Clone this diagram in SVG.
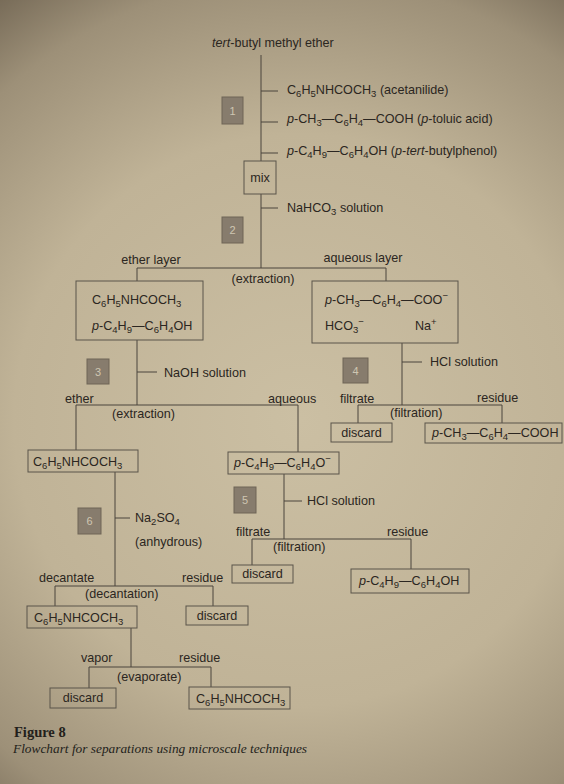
<svg xmlns="http://www.w3.org/2000/svg" width="564" height="784" viewBox="0 0 564 784">
<defs>
<radialGradient id="bg" cx="300" cy="420" r="520" gradientUnits="userSpaceOnUse">
<stop offset="0" stop-color="#cbbfa3"/>
<stop offset="0.55" stop-color="#c0b397"/>
<stop offset="0.85" stop-color="#9d9078"/>
<stop offset="1" stop-color="#766a57"/>
</radialGradient>
<style>
text{font-family:"Liberation Sans",Arial,sans-serif;font-size:12.6px;fill:#2b2621}
.i{font-style:italic}
.b{font-size:9.5px;baseline-shift:-3px}
.p{font-size:9.5px;baseline-shift:5px}
.c{text-anchor:middle}
.box{fill:none;stroke:#5a544a;stroke-width:1}
.num rect{fill:#877c6d;stroke:#6e6456;stroke-width:1}
.num text{fill:#cfc6b2;font-size:11px;text-anchor:middle}
#connectors line{stroke:#4a443c;stroke-width:1}
.fig{font-family:"Liberation Serif","Times New Roman",serif;font-size:14.5px;font-weight:bold;fill:#231f1b}
.cap{font-family:"Liberation Serif","Times New Roman",serif;font-size:13px;font-style:italic;fill:#231f1b}
</style>
</defs>
<rect x="0" y="0" width="564" height="784" fill="url(#bg)"/>

<g id="connectors">
<line x1="261" y1="55" x2="261" y2="161"/>
<line x1="261" y1="91" x2="278" y2="91"/>
<line x1="261" y1="122" x2="278" y2="122"/>
<line x1="261" y1="153" x2="278" y2="153"/>
<line x1="261" y1="194" x2="261" y2="268"/>
<line x1="261" y1="208" x2="278" y2="208"/>
<line x1="137" y1="268" x2="386" y2="268"/>
<line x1="137" y1="268" x2="137" y2="281"/>
<line x1="386" y1="268" x2="386" y2="281"/>
<line x1="137" y1="340" x2="137" y2="405"/>
<line x1="137" y1="372" x2="157" y2="372"/>
<line x1="76" y1="405" x2="298" y2="405"/>
<line x1="76" y1="405" x2="76" y2="450"/>
<line x1="298" y1="405" x2="298" y2="452"/>
<line x1="402" y1="343" x2="402" y2="405"/>
<line x1="402" y1="362" x2="422" y2="362"/>
<line x1="358" y1="405" x2="502" y2="405"/>
<line x1="358" y1="405" x2="358" y2="423"/>
<line x1="502" y1="405" x2="502" y2="423"/>
<line x1="115" y1="472" x2="115" y2="586"/>
<line x1="115" y1="518" x2="130" y2="518"/>
<line x1="55" y1="586" x2="213" y2="586"/>
<line x1="55" y1="586" x2="55" y2="606"/>
<line x1="213" y1="586" x2="213" y2="606"/>
<line x1="284" y1="474" x2="284" y2="539"/>
<line x1="284" y1="501" x2="302" y2="501"/>
<line x1="252" y1="539" x2="411" y2="539"/>
<line x1="252" y1="539" x2="252" y2="565"/>
<line x1="411" y1="539" x2="411" y2="569"/>
<line x1="131" y1="628" x2="131" y2="667"/>
<line x1="89" y1="667" x2="211" y2="667"/>
<line x1="89" y1="667" x2="89" y2="688"/>
<line x1="211" y1="667" x2="211" y2="687"/>
</g>

<g id="title"><text x="212" y="47"><tspan class="i">tert</tspan>-butyl methyl ether</text></g>
<g id="reagents1">
<text x="287" y="94">C<tspan class="b">6</tspan>H<tspan class="b">5</tspan>NHCOCH<tspan class="b">3</tspan> (acetanilide)</text>
<text x="287" y="123"><tspan class="i">p</tspan>-CH<tspan class="b">3</tspan>—C<tspan class="b">6</tspan>H<tspan class="b">4</tspan>—COOH (<tspan class="i">p</tspan>-toluic acid)</text>
<text x="287" y="155"><tspan class="i">p</tspan>-C<tspan class="b">4</tspan>H<tspan class="b">9</tspan>—C<tspan class="b">6</tspan>H<tspan class="b">4</tspan>OH (<tspan class="i">p</tspan>-<tspan class="i">tert</tspan>-butylphenol)</text>
</g>
<g id="step1" class="num"><rect x="222" y="97" width="21" height="27"/><text x="232.5" y="115">1</text></g>
<g id="mix"><rect class="box" x="244" y="161" width="32" height="33"/><text class="c" x="260" y="182">mix</text></g>
<g id="nahco3"><text x="287" y="212">NaHCO<tspan class="b">3</tspan> solution</text></g>
<g id="step2" class="num"><rect x="222" y="217" width="21" height="26"/><text x="232.5" y="234">2</text></g>

<g id="extraction1">
<text class="c" x="151" y="264">ether layer</text>
<text class="c" x="363" y="262">aqueous layer</text>
<text class="c" x="263" y="283">(extraction)</text>
</g>
<g id="etherLayer">
<rect class="box" x="76" y="281" width="127" height="59"/>
<text x="92" y="304">C<tspan class="b">6</tspan>H<tspan class="b">5</tspan>NHCOCH<tspan class="b">3</tspan></text>
<text x="92" y="330"><tspan class="i">p</tspan>-C<tspan class="b">4</tspan>H<tspan class="b">9</tspan>—C<tspan class="b">6</tspan>H<tspan class="b">4</tspan>OH</text>
</g>
<g id="aqueousLayer">
<rect class="box" x="312" y="281" width="146" height="62"/>
<text x="325" y="304"><tspan class="i">p</tspan>-CH<tspan class="b">3</tspan>—C<tspan class="b">6</tspan>H<tspan class="b">4</tspan>—COO<tspan class="p">−</tspan></text>
<text x="325" y="330">HCO<tspan class="b">3</tspan><tspan class="p">−</tspan></text>
<text x="415" y="330">Na<tspan class="p">+</tspan></text>
</g>

<g id="naoh"><text x="164" y="377">NaOH solution</text></g>
<g id="step3" class="num"><rect x="87" y="359" width="22" height="25"/><text x="98" y="376">3</text></g>
<g id="extraction2">
<text x="65" y="403">ether</text>
<text x="268" y="403">aqueous</text>
<text x="112" y="418">(extraction)</text>
</g>

<g id="hcl1"><text x="430" y="366">HCl solution</text></g>
<g id="step4" class="num"><rect x="343" y="358" width="25" height="25"/><text x="355.5" y="375">4</text></g>
<g id="filtration1">
<text x="340" y="403">filtrate</text>
<text x="477" y="402">residue</text>
<text x="390" y="417">(filtration)</text>
</g>
<g id="discard1"><rect class="box" x="331" y="423" width="61" height="19"/><text class="c" x="361.5" y="437">discard</text></g>
<g id="toluicAcid"><rect class="box" x="425" y="423" width="137" height="20"/><text x="432" y="437"><tspan class="i">p</tspan>-CH<tspan class="b">3</tspan>—C<tspan class="b">6</tspan>H<tspan class="b">4</tspan>—COOH</text></g>

<g id="acetanilide1"><rect class="box" x="28" y="450" width="110" height="22"/><text x="33" y="466">C<tspan class="b">6</tspan>H<tspan class="b">5</tspan>NHCOCH<tspan class="b">3</tspan></text></g>
<g id="phenolate"><rect class="box" x="228" y="452" width="111" height="22"/><text x="234" y="467"><tspan class="i">p</tspan>-C<tspan class="b">4</tspan>H<tspan class="b">9</tspan>—C<tspan class="b">6</tspan>H<tspan class="b">4</tspan>O<tspan class="p">−</tspan></text></g>

<g id="na2so4">
<text x="135" y="522">Na<tspan class="b">2</tspan>SO<tspan class="b">4</tspan></text>
<text x="135" y="546">(anhydrous)</text>
</g>
<g id="step6" class="num"><rect x="78" y="508" width="23" height="26"/><text x="89.5" y="525">6</text></g>
<g id="decantation">
<text x="39" y="582">decantate</text>
<text x="182" y="582">residue</text>
<text x="85" y="598">(decantation)</text>
</g>
<g id="acetanilide2"><rect class="box" x="27" y="606" width="110" height="22"/><text x="34" y="622">C<tspan class="b">6</tspan>H<tspan class="b">5</tspan>NHCOCH<tspan class="b">3</tspan></text></g>
<g id="discard3"><rect class="box" x="186" y="606" width="62" height="19"/><text class="c" x="217" y="620">discard</text></g>

<g id="hcl2"><text x="307" y="505">HCl solution</text></g>
<g id="step5" class="num"><rect x="234" y="487" width="22" height="26"/><text x="245" y="504">5</text></g>
<g id="filtration2">
<text x="236" y="536">filtrate</text>
<text x="387" y="536">residue</text>
<text x="273" y="551">(filtration)</text>
</g>
<g id="discard2"><rect class="box" x="232" y="565" width="61" height="18"/><text class="c" x="262.5" y="578">discard</text></g>
<g id="phenol"><rect class="box" x="351" y="569" width="118" height="24"/><text x="359" y="585"><tspan class="i">p</tspan>-C<tspan class="b">4</tspan>H<tspan class="b">9</tspan>—C<tspan class="b">6</tspan>H<tspan class="b">4</tspan>OH</text></g>

<g id="evaporation">
<text x="81" y="662">vapor</text>
<text x="179" y="662">residue</text>
<text x="117" y="681">(evaporate)</text>
</g>
<g id="discard4"><rect class="box" x="50" y="688" width="66" height="20"/><text class="c" x="83" y="702">discard</text></g>
<g id="acetanilide3"><rect class="box" x="189" y="687" width="101" height="22"/><text x="196" y="703">C<tspan class="b">6</tspan>H<tspan class="b">5</tspan>NHCOCH<tspan class="b">3</tspan></text></g>

<g id="caption">
<text class="fig" x="14" y="737">Figure 8</text>
<text class="cap" x="13" y="753" textLength="294" lengthAdjust="spacingAndGlyphs">Flowchart for separations using microscale techniques</text>
</g>
</svg>
